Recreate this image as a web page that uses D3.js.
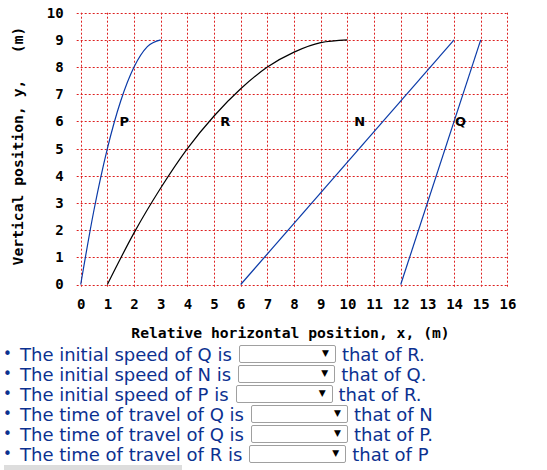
<!DOCTYPE html>
<html>
<head>
<meta charset="utf-8">
<script src="https://cdn.jsdelivr.net/npm/d3@7"></script>
<style>
  html, body { margin: 0; padding: 0; background: #fff; width: 547px; height: 470px; overflow: hidden; }
  #chart { position: absolute; left: 0; top: 0; }
  .line { position: absolute; left: 0; height: 20px; display: flex; align-items: center; white-space: nowrap;
          font-family: Verdana, "DejaVu Sans", sans-serif; font-size: 18px; color: #0c3190; }
  .bullet { width: 20px; text-align: left; padding-left: 3px; box-sizing: border-box; font-size: 15px; }
  .sel { display: inline-block; box-sizing: border-box; width: 97px; height: 18px; border: 1px solid #a0a0a0;
         border-radius: 2px; background: #fff; margin: 0 6px 0 7px; position: relative; }
  .sel::after { content: "\25BC"; position: absolute; right: 6px; top: 2px; font-size: 9px; color: #000; font-family: "DejaVu Sans", sans-serif; }
  #btn { position: absolute; left: 4px; top: 465px; width: 178px; height: 22px; background: #dddddd; }
</style>
</head>
<body>
<svg id="chart" width="547" height="345"></svg>
<div id="text"></div>
<div id="btn"></div>
<script>
// ---- data ----
const xTicks = [0,1,2,3,4,5,6,7,8,9,10,11,12,13,14,15,16];
const yTicks = [0,1,2,3,4,5,6,7,8,9,10];

const pX = [0, 0.5, 1, 1.5, 2, 2.5, 3];
const pY = [0, 2.75, 5, 6.75, 8, 8.75, 9];

const rX = [1, 2, 3, 4, 5, 6, 7, 8, 9, 10];
const rY = [0, 1.9, 3.55, 5, 6.2, 7.2, 8, 8.55, 8.9, 9];

const nX = [6, 14];
const nY = [0, 9];

const qX = [12, 15];
const qY = [0, 9];

const labelNames = ["P", "R", "N", "Q"];
const labelX = [1.63, 5.42, 10.46, 14.24];
const labelY = [6, 6, 6, 6];

const sentences = [
  ["The initial speed of Q is", "that of R."],
  ["The initial speed of N is", "that of Q."],
  ["The initial speed of P is", "that of R."],
  ["The time of travel of Q is", "that of N"],
  ["The time of travel of Q is", "that of P."],
  ["The time of travel of R is", "that of P"]
];

// ---- chart ----
const svg = d3.select("#chart");
const x = d3.scaleLinear().domain([0, 16]).range([80.7, 507.4]);
const y = d3.scaleLinear().domain([0, 10]).range([284.5, 12.7]);

const gridColor = "#dd2020";
const grid = svg.append("g");
grid.selectAll(".vg").data(xTicks).enter().append("line")
  .attr("x1", d => Math.round(x(d)) + 0.5).attr("x2", d => Math.round(x(d)) + 0.5)
  .attr("y1", y(10)).attr("y2", y(0) + 3)
  .attr("stroke", gridColor).attr("stroke-width", 1).attr("stroke-dasharray", "2,2");
grid.selectAll(".hg").data(yTicks).enter().append("line")
  .attr("y1", d => Math.round(y(d)) + 0.5).attr("y2", d => Math.round(y(d)) + 0.5)
  .attr("x1", x(0) - 4).attr("x2", x(16))
  .attr("stroke", gridColor).attr("stroke-width", 1).attr("stroke-dasharray", "2,2");

const tickFont = "'DejaVu Sans Mono', monospace";
const xAxis = svg.append("g").attr("transform", `translate(0,${y(0)})`)
  .call(d3.axisBottom(x).tickValues(xTicks).tickFormat(d3.format("d")).tickSize(0).tickPadding(15));
xAxis.select(".domain").remove();
xAxis.selectAll("text").attr("font-family", tickFont).attr("font-weight", "bold").attr("font-size", "14px").attr("fill", "#000");

const yAxis = svg.append("g").attr("transform", `translate(${x(0)},0)`)
  .call(d3.axisLeft(y).tickValues(yTicks).tickFormat(d3.format("d")).tickSize(0).tickPadding(17));
yAxis.select(".domain").remove();
yAxis.selectAll("text").attr("font-family", tickFont).attr("font-weight", "bold").attr("font-size", "14px").attr("fill", "#000");

svg.append("text").attr("x", 290.5).attr("y", 337.5).attr("text-anchor", "middle")
  .attr("font-family", tickFont).attr("font-weight", "bold").attr("font-size", "14.7px")
  .text("Relative horizontal position, x, (m)");
svg.append("text").attr("transform", "translate(23,146) rotate(-90)").attr("text-anchor", "middle")
  .attr("font-family", tickFont).attr("font-weight", "bold").attr("font-size", "14.7px")
  .attr("xml:space", "preserve").style("white-space", "pre")
  .text("Vertical position, y,   (m)");

const lineGen = d3.line().x(d => x(d[0])).y(d => y(d[1])).curve(d3.curveMonotoneX);
const series = [
  { xs: pX, ys: pY, color: "#0a3aa8" },
  { xs: rX, ys: rY, color: "#000000" },
  { xs: nX, ys: nY, color: "#0a3aa8" },
  { xs: qX, ys: qY, color: "#0a3aa8" }
];
series.forEach(s => {
  svg.append("path").datum(s.xs.map((v, i) => [v, s.ys[i]]))
    .attr("d", lineGen).attr("fill", "none").attr("stroke", s.color).attr("stroke-width", 1.2);
});

svg.selectAll(".lbl").data(labelNames).enter().append("text")
  .attr("x", (d, i) => x(labelX[i])).attr("y", (d, i) => y(labelY[i]))
  .attr("dy", "0.36em").attr("text-anchor", "middle")
  .attr("font-family", "'DejaVu Sans', sans-serif").attr("font-weight", "bold").attr("font-size", "13px")
  .text(d => d);

// ---- text block ----
const tb = d3.select("#text");
sentences.forEach((s, i) => {
  const row = tb.append("div").attr("class", "line").style("top", (344 + i * 20) + "px");
  row.append("span").attr("class", "bullet").text("\u2022");
  row.append("span").text(s[0]);
  row.append("span").attr("class", "sel");
  row.append("span").text(s[1]);
});
</script>
</body>
</html>
